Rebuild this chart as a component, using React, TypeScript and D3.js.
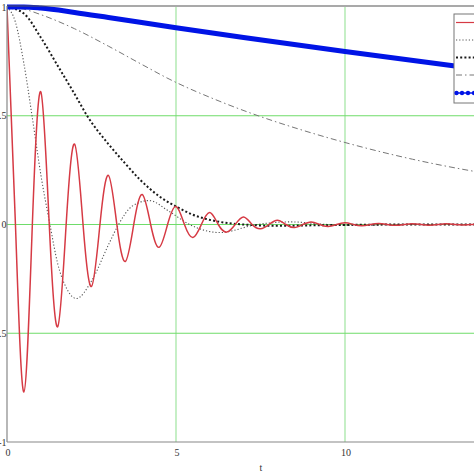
import { curveMonotoneX, curveNatural, line, scaleLinear } from 'd3';

// time samples and values
const redT = [
  0, 0.25, 0.5, 0.75, 1, 1.25, 1.5, 1.75, 2, 2.25, 2.5, 2.75, 3, 3.25, 3.5, 3.75, 4, 4.25, 4.5, 4.75,
  5, 5.25, 5.5, 5.75, 6, 6.25, 6.5, 6.75, 7, 7.25, 7.5, 7.75, 8, 8.25, 8.5, 8.75, 9, 9.25, 9.5, 9.75,
  10, 10.25, 10.5, 10.75, 11, 11.25, 11.5, 11.75, 12, 12.25, 12.5, 12.75, 13, 13.25, 13.5, 13.75, 14, 14.5, 15,
];
const redV = [
  1, 0, -0.77, 0, 0.61, 0, -0.47, 0, 0.37, 0, -0.285, 0, 0.226, 0, -0.17, 0, 0.138, 0, -0.105, 0,
  0.083, 0, -0.06, 0, 0.055, 0, -0.035, 0, 0.035, 0, -0.02, 0, 0.02, 0, -0.014, 0, 0.012, 0, -0.009, 0,
  0.008, 0, -0.006, 0, 0.005, 0, -0.004, 0, 0.004, 0, -0.003, 0, 0.003, 0, -0.002, 0, 0.002, 0, 0,
];

const dotT = [0, 0.25, 0.5, 0.75, 1, 1.27, 1.5, 1.75, 2.05, 2.5, 3, 3.3, 3.7, 4.2, 4.8, 5.4, 6.3, 7.4, 8.4, 9.5, 10.5, 11.6, 15];
const dotV = [1, 0.93, 0.74, 0.49, 0.23, 0, -0.18, -0.29, -0.34, -0.26, -0.094, 0, 0.084, 0.11, 0.06, 0, -0.037, 0, 0.012, 0, -0.004, 0, 0];

const boldDotT = [0, 0.5, 1, 1.5, 2, 2.37, 3, 3.5, 3.93, 4.5, 5, 5.5, 6.3, 7, 8, 9, 10, 12, 15];
const boldDotV = [1, 0.97, 0.86, 0.73, 0.6, 0.5, 0.37, 0.28, 0.207, 0.13, 0.083, 0.045, 0.012, 0, -0.006, -0.004, -0.002, 0, 0];

const dashDotT = [0, 0.5, 1, 2, 3, 4, 4.82, 6.3, 7.43, 8.67, 10, 12, 13.8, 15];
const dashDotV = [1, 0.99, 0.965, 0.9, 0.82, 0.735, 0.667, 0.566, 0.5, 0.437, 0.377, 0.3, 0.245, 0.215];

const blueT = [0, 0.5, 1, 2, 3, 5, 7, 10, 13.2, 15];
const blueV = [1, 1, 0.995, 0.975, 0.952, 0.905, 0.86, 0.795, 0.73, 0.695];

const xTicks = [0, 5, 10];
const yTicks = [1, 0.5, 0, -0.5, -1];
const yLabels = ['1', '0.5', '0', '-0.5', '-1'];
const xGrid = [5, 10];
const yGrid = [0.5, 0, -0.5];

const width = 474;
const height = 474;
const plot = { left: 7, top: 7, bottom: 442, right: 514 };

type Pt = [number, number];
const zip = (ts: number[], vs: number[]): Pt[] => ts.map((t, i) => [t, vs[i]]);

export default function App() {
  const x = scaleLinear().domain([0, 15]).range([plot.left, plot.right]);
  const y = scaleLinear().domain([-1, 1]).range([plot.bottom, plot.top]);

  const smooth = line<Pt>().x(d => x(d[0])).y(d => y(d[1])).curve(curveMonotoneX);
  const wavy = line<Pt>().x(d => x(d[0])).y(d => y(d[1])).curve(curveNatural);

  const font = { fontFamily: '"Liberation Serif", "Times New Roman", serif', fontSize: 10, fill: '#333' };
  const legendX = 454;
  const legendRows = [22.5, 40, 57.5, 75, 93];

  return (
    <svg width={width} height={height} style={{ position: 'absolute', left: 0, top: 0, display: 'block', background: '#fff' }}>
      <defs>
        <clipPath id="plot-clip">
          <rect x={plot.left} y={plot.top - 3} width={plot.right - plot.left} height={plot.bottom - plot.top + 3} />
        </clipPath>
      </defs>

      {xGrid.map(t => (
        <line key={`gx${t}`} x1={x(t)} x2={x(t)} y1={plot.top} y2={plot.bottom} stroke="#9fe59f" strokeWidth={1.2} />
      ))}
      {yGrid.map(v => (
        <line key={`gy${v}`} x1={plot.left} x2={plot.right} y1={y(v)} y2={y(v)} stroke="#6fdc6a" strokeWidth={1.2} />
      ))}

      <g clipPath="url(#plot-clip)" fill="none">
        <path d={smooth(zip(dashDotT, dashDotV)) ?? ''} stroke="#777" strokeWidth={1} strokeDasharray="6 3 1.5 3" />
        <path d={smooth(zip(dotT, dotV)) ?? ''} stroke="#555" strokeWidth={1.1} strokeDasharray="1.2 2" />
        <path d={smooth(zip(boldDotT, boldDotV)) ?? ''} stroke="#1a1a1a" strokeWidth={2} strokeDasharray="2 2.2" />
        <path d={wavy(zip(redT, redV)) ?? ''} stroke="#d63a44" strokeWidth={1.5} />
        <path d={smooth(zip(blueT, blueV)) ?? ''} stroke="#0014e6" strokeWidth={5} />
      </g>

      <line x1={plot.left} x2={width} y1={6} y2={6} stroke="#555" strokeWidth={1.2} />
      <line x1={plot.left} x2={plot.left} y1={6} y2={plot.bottom} stroke="#888" strokeWidth={1.2} />
      <line x1={plot.left} x2={width} y1={plot.bottom} y2={plot.bottom} stroke="#888" strokeWidth={1.2} />

      {yTicks.map((v, i) => (
        <text key={`yl${v}`} x={6.5} y={y(v) + 3.5} textAnchor="end" style={font}>{yLabels[i]}</text>
      ))}
      {xTicks.map(t => (
        <text key={`xl${t}`} x={x(t) + 1} y={456} textAnchor="middle" style={font}>{t}</text>
      ))}
      <text x={261} y={471} textAnchor="middle" style={font}>t</text>

      <g>
        <rect x={legendX} y={14} width={80} height={89} fill="#fff" stroke="#777" strokeWidth={1} />
        <line x1={legendX + 2} x2={width} y1={legendRows[0]} y2={legendRows[0]} stroke="#d63a44" strokeWidth={1.2} />
        <line x1={legendX + 2} x2={width} y1={legendRows[1]} y2={legendRows[1]} stroke="#555" strokeWidth={1} strokeDasharray="1.2 2" />
        <line x1={legendX + 2} x2={width} y1={legendRows[2]} y2={legendRows[2]} stroke="#1a1a1a" strokeWidth={2} strokeDasharray="2 2.2" />
        <line x1={legendX + 2} x2={width} y1={legendRows[3]} y2={legendRows[3]} stroke="#777" strokeWidth={1} strokeDasharray="6 3 1.5 3" />
        <line x1={legendX + 2} x2={width} y1={legendRows[4]} y2={legendRows[4]} stroke="#0014e6" strokeWidth={1.5} />
        {[456.5, 462, 468, 474].map(cx => (
          <circle key={cx} cx={cx} cy={legendRows[4]} r={2.2} fill="#0014e6" />
        ))}
      </g>
    </svg>
  );
}
